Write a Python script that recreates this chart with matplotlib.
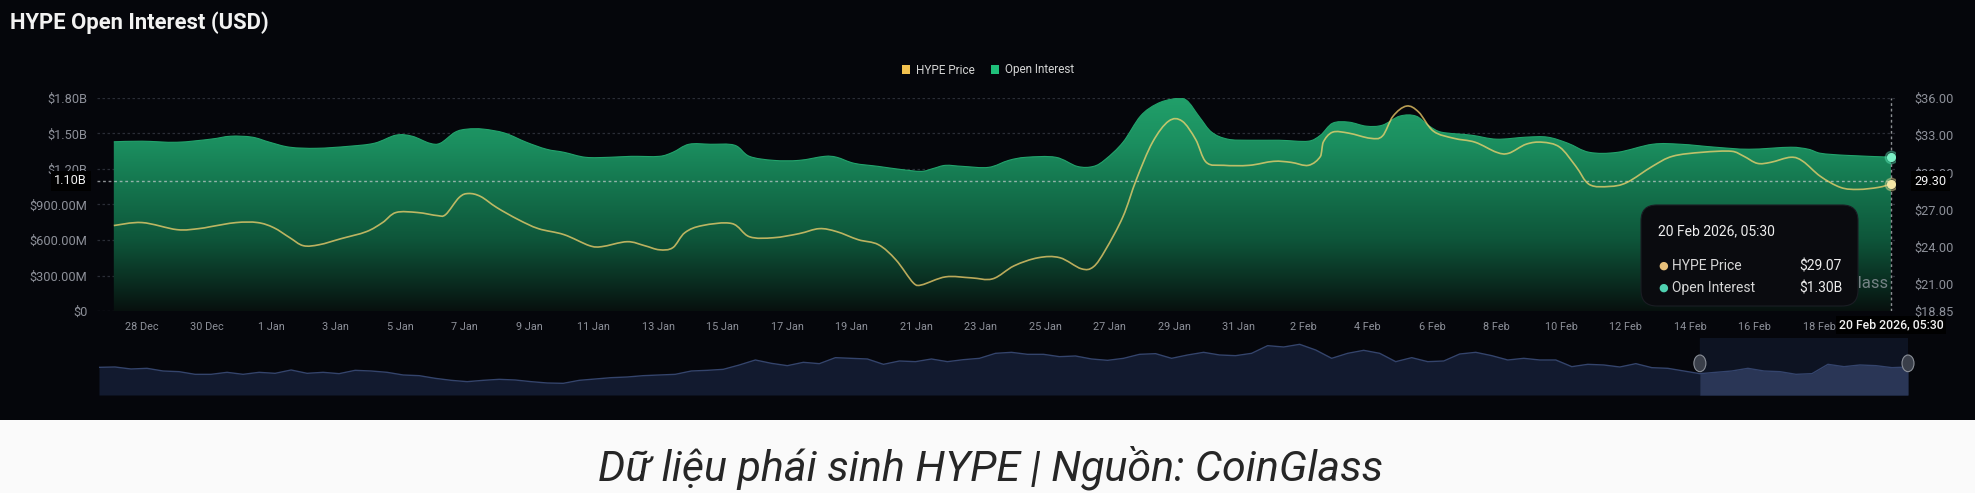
import numpy as np
import pandas as pd
import matplotlib
matplotlib.use("Agg")
import matplotlib.pyplot as plt
import matplotlib.dates as mdates
from matplotlib.colors import LinearSegmentedColormap
from matplotlib.patches import Patch, FancyBboxPatch, Rectangle, Ellipse, PathPatch
from matplotlib.path import Path
from matplotlib.ticker import FixedLocator, FuncFormatter

plt.rcParams['font.family'] = ['Roboto', 'DejaVu Sans']

# open interest (USD, billions)
oi_time = [
    "2025-12-27 03:00", "2025-12-28 00:00", "2025-12-29 02:00", "2025-12-30 03:00",
    "2025-12-30 18:00", "2025-12-31 10:00", "2025-12-31 23:00", "2026-01-01 14:00",
    "2026-01-02 10:00", "2026-01-03 10:00", "2026-01-04 05:00", "2026-01-04 21:00",
    "2026-01-05 09:00", "2026-01-05 22:00", "2026-01-06 06:00", "2026-01-06 17:00",
    "2026-01-07 02:00", "2026-01-07 14:00", "2026-01-08 06:00", "2026-01-08 22:00",
    "2026-01-09 13:00", "2026-01-10 02:00", "2026-01-10 18:00", "2026-01-11 12:00",
    "2026-01-12 04:00", "2026-01-13 01:00", "2026-01-13 11:00", "2026-01-13 23:00",
    "2026-01-14 15:00", "2026-01-15 09:00", "2026-01-15 20:00", "2026-01-16 14:00",
    "2026-01-17 09:00", "2026-01-18 04:00", "2026-01-18 13:00", "2026-01-19 02:00",
    "2026-01-19 20:00", "2026-01-20 12:00", "2026-01-21 04:00", "2026-01-21 13:00",
    "2026-01-21 22:00", "2026-01-22 11:00", "2026-01-23 06:00", "2026-01-23 21:00",
    "2026-01-24 10:00", "2026-01-25 08:00", "2026-01-26 00:00", "2026-01-26 12:00",
    "2026-01-26 21:00", "2026-01-27 10:00", "2026-01-27 23:00", "2026-01-28 11:00",
    "2026-01-28 23:00", "2026-01-29 09:00", "2026-01-29 19:00", "2026-01-30 04:00",
    "2026-01-30 16:00", "2026-01-31 08:00", "2026-02-01 06:00", "2026-02-02 04:00",
    "2026-02-02 13:00", "2026-02-02 22:00", "2026-02-03 10:00", "2026-02-03 23:00",
    "2026-02-04 11:00", "2026-02-05 00:00", "2026-02-05 12:00", "2026-02-05 22:00",
    "2026-02-06 07:00", "2026-02-07 05:00", "2026-02-08 00:00", "2026-02-08 22:00",
    "2026-02-09 14:00", "2026-02-10 05:00", "2026-02-10 21:00", "2026-02-11 18:00",
    "2026-02-12 20:00", "2026-02-13 17:00", "2026-02-14 19:00", "2026-02-15 20:00",
    "2026-02-17 03:00", "2026-02-17 16:00", "2026-02-18 01:00", "2026-02-18 19:00",
    "2026-02-20 05:30",
]
oi_value = [
    1.430, 1.435, 1.426, 1.452, 1.477, 1.469, 1.426, 1.384,
    1.375, 1.392, 1.418, 1.486, 1.477, 1.418, 1.418, 1.511,
    1.537, 1.537, 1.503, 1.426, 1.367, 1.341, 1.299, 1.299,
    1.307, 1.307, 1.341, 1.409, 1.409, 1.401, 1.307, 1.273,
    1.273, 1.307, 1.299, 1.248, 1.222, 1.197, 1.180, 1.205,
    1.231, 1.222, 1.214, 1.273, 1.299, 1.299, 1.222, 1.222,
    1.282, 1.426, 1.647, 1.749, 1.791, 1.783, 1.638, 1.511,
    1.452, 1.443, 1.443, 1.435, 1.486, 1.587, 1.596, 1.562,
    1.570, 1.647, 1.647, 1.562, 1.511, 1.486, 1.452, 1.469,
    1.469, 1.418, 1.341, 1.341, 1.409, 1.409, 1.384, 1.367,
    1.384, 1.367, 1.333, 1.316, 1.300,
]

# HYPE price (USD)
price_time = [
    "2025-12-27 03:00", "2025-12-28 00:00", "2025-12-29 02:00", "2025-12-29 18:00",
    "2025-12-30 03:00", "2025-12-30 22:00", "2025-12-31 14:00", "2026-01-01 02:00",
    "2026-01-01 14:00", "2026-01-02 00:00", "2026-01-02 12:00", "2026-01-03 04:00",
    "2026-01-03 23:00", "2026-01-04 11:00", "2026-01-04 21:00", "2026-01-05 13:00",
    "2026-01-06 04:00", "2026-01-06 10:00", "2026-01-06 20:00", "2026-01-07 03:00",
    "2026-01-07 12:00", "2026-01-08 00:00", "2026-01-08 16:00", "2026-01-09 07:00",
    "2026-01-10 02:00", "2026-01-10 21:00", "2026-01-11 06:00", "2026-01-12 01:00",
    "2026-01-12 14:00", "2026-01-13 01:00", "2026-01-13 11:00", "2026-01-13 20:00",
    "2026-01-14 09:00", "2026-01-15 07:00", "2026-01-15 20:00", "2026-01-16 14:00",
    "2026-01-17 09:00", "2026-01-18 00:00", "2026-01-18 13:00", "2026-01-19 05:00",
    "2026-01-19 20:00", "2026-01-20 09:00", "2026-01-20 22:00", "2026-01-21 04:00",
    "2026-01-21 22:00", "2026-01-22 17:00", "2026-01-23 09:00", "2026-01-24 01:00",
    "2026-01-24 19:00", "2026-01-25 11:00", "2026-01-26 03:00", "2026-01-26 12:00",
    "2026-01-26 21:00", "2026-01-27 10:00", "2026-01-27 20:00", "2026-01-28 08:00",
    "2026-01-28 20:00", "2026-01-29 06:00", "2026-01-29 16:00", "2026-01-30 00:00",
    "2026-01-30 13:00", "2026-01-31 08:00", "2026-02-01 02:00", "2026-02-01 15:00",
    "2026-02-02 04:00", "2026-02-02 13:00", "2026-02-02 15:00", "2026-02-02 22:00",
    "2026-02-03 10:00", "2026-02-04 02:00", "2026-02-04 11:00", "2026-02-04 19:00",
    "2026-02-05 05:00", "2026-02-05 14:00", "2026-02-06 01:00", "2026-02-06 16:00",
    "2026-02-07 08:00", "2026-02-08 00:00", "2026-02-08 09:00", "2026-02-08 22:00",
    "2026-02-09 10:00", "2026-02-09 23:00", "2026-02-10 11:00", "2026-02-10 21:00",
    "2026-02-11 12:00", "2026-02-12 01:00", "2026-02-12 20:00", "2026-02-13 11:00",
    "2026-02-14 09:00", "2026-02-15 07:00", "2026-02-15 16:00", "2026-02-16 02:00",
    "2026-02-16 12:00", "2026-02-17 03:00", "2026-02-17 12:00", "2026-02-18 01:00",
    "2026-02-18 16:00", "2026-02-19 05:00", "2026-02-19 20:00", "2026-02-20 05:30",
]
price_value = [
    25.73, 25.97, 25.40, 25.48, 25.64, 25.97, 25.97, 25.56,
    24.75, 24.11, 24.19, 24.67, 25.24, 25.97, 26.78, 26.78,
    26.53, 26.62, 27.99, 28.31, 28.07, 27.18, 26.21, 25.48,
    25.00, 24.11, 24.03, 24.43, 24.11, 23.78, 23.95, 25.16,
    25.73, 25.89, 24.83, 24.75, 25.08, 25.48, 25.24, 24.59,
    24.19, 22.97, 21.11, 20.95, 21.60, 21.52, 21.44, 22.49,
    23.14, 23.14, 22.25, 22.41, 23.78, 26.45, 29.45, 32.44,
    34.14, 34.14, 32.68, 30.82, 30.58, 30.58, 30.90, 30.82,
    30.58, 31.31, 32.44, 33.25, 33.17, 32.76, 32.93, 34.54,
    35.35, 34.87, 33.33, 32.76, 32.44, 31.63, 31.55, 32.28,
    32.44, 32.04, 30.50, 29.04, 28.88, 29.20, 30.50, 31.31,
    31.63, 31.71, 31.31, 30.74, 30.82, 31.23, 30.90, 29.69,
    28.80, 28.64, 28.80, 29.07,
]

# overview strip (long history, relative height)
nav_value = [
    83, 84, 78, 80, 72, 70, 62, 62, 68, 62, 68, 65, 75, 65, 68, 64,
    74, 72, 68, 60, 58, 50, 44, 40, 44, 47, 45, 40, 36, 35, 44, 48,
    52, 54, 58, 60, 62, 72, 74, 77, 90, 105, 95, 88, 98, 94, 112, 110,
    108, 92, 102, 100, 108, 100, 106, 110, 125, 128, 122, 122,
    115, 117, 108, 104, 110, 122, 124, 110, 120, 128, 120, 118, 125, 148, 144, 152,
    135, 110, 125, 134, 125, 100, 112, 100, 102, 123, 128, 118, 105, 110, 105, 105,
    85, 92, 90, 84, 94, 82, 80, 72, 64, 68, 72, 80, 72, 70, 62, 64,
    92, 85, 90, 88, 82, 84,
]
nav_window = 14  # points inside the highlighted window

oi_ticks = [0, 0.3, 0.6, 0.9, 1.2, 1.5, 1.8]
price_ticks = [18.85, 21, 24, 27, 30, 33, 36]
cross_oi = 1.10
cross_price = 29.30

oi_t = pd.to_datetime(oi_time)
oi_v = np.array(oi_value)
pr_t = pd.to_datetime(price_time)
pr_v = np.array(price_value)


def smooth_path(xs, ys, s=0.17, base=None):
    # cubic bezier through every point (like echarts "smooth")
    xs = np.asarray(xs, float)
    ys = np.asarray(ys, float)
    n = len(xs)
    verts = [(xs[0], ys[0])]
    codes = [Path.MOVETO]
    for i in range(n - 1):
        p0 = np.array([xs[max(i - 1, 0)], ys[max(i - 1, 0)]])
        p1 = np.array([xs[i], ys[i]])
        p2 = np.array([xs[i + 1], ys[i + 1]])
        p3 = np.array([xs[min(i + 2, n - 1)], ys[min(i + 2, n - 1)]])
        dx = p2[0] - p1[0]
        t1 = (p2 - p0) * s
        t2 = (p3 - p1) * s
        # keep control points inside the segment in x
        if t1[0] != 0:
            t1 = t1 * min(1, 0.45 * dx / abs(t1[0]))
        if t2[0] != 0:
            t2 = t2 * min(1, 0.45 * dx / abs(t2[0]))
        verts += [tuple(p1 + t1), tuple(p2 - t2), tuple(p2)]
        codes += [Path.CURVE4] * 3
    if base is not None:
        verts += [(xs[-1], base), (xs[0], base), (xs[0], ys[0])]
        codes += [Path.LINETO, Path.LINETO, Path.CLOSEPOLY]
    return Path(verts, codes)


BG = '#05060b'
GRID = '#2a2d36'
LABEL = '#8d9099'
YELLOW = '#f2c14e'
GREEN = '#1fbf7a'

fig = plt.figure(figsize=(19.75, 4.93), dpi=100)
fig.patch.set_facecolor(BG)
W, H = 1975, 493

# white caption band
fig.patches.append(Rectangle((0, 0), 1, 73 / H, transform=fig.transFigure,
                             facecolor='#fafafa', edgecolor='none', zorder=0))
fig.text(991 / W, (H - 468) / H, 'Dữ liệu phái sinh HYPE | Nguồn: CoinGlass',
         ha='center', va='center', fontsize=31, style='italic', color='#262626')

fig.text(10 / W, (H - 23) / H, 'HYPE Open Interest (USD)', ha='left', va='center',
         fontsize=15.8, fontweight='bold', color='#f2f2f2')

# main axes
ax = fig.add_axes([97 / W, (H - 311) / H, (1895 - 97) / W, (311 - 98) / H])
ax.set_facecolor(BG)
ax2 = ax.twinx()

x0 = pd.Timestamp('2025-12-26 14:30')
x1 = oi_t[-1] + pd.Timedelta(hours=3)
ax.set_xlim(x0, x1)
ax.set_ylim(0, 1.8)
ax2.set_ylim(18.85, 36)

oi_x = mdates.date2num(oi_t)
pr_x = mdates.date2num(pr_t)

# gradient area for open interest
cmap = LinearSegmentedColormap.from_list('oi', [
    (0.0, (7/255, 16/255, 14/255)),
    (0.1, (9/255, 38/255, 28/255)),
    (0.335, (14/255, 86/255, 58/255)),
    (0.61, (21/255, 120/255, 80/255)),
    (0.78, (27/255, 142/255, 95/255)),
    (1.0, (33/255, 160/255, 106/255)),
])
grad = np.linspace(0, 1, 256).reshape(-1, 1)
im = ax.imshow(grad, cmap=cmap, origin='lower', aspect='auto',
               extent=[mdates.date2num(x0), mdates.date2num(x1), 0, 1.8], zorder=1)
im.set_clip_path(smooth_path(oi_x, oi_v, base=0), transform=ax.transData)
ax.add_patch(PathPatch(smooth_path(oi_x, oi_v), facecolor='none', edgecolor='#22a36c',
                       lw=0.8, zorder=2))
ax.set_xlim(x0, x1)
ax.set_ylim(0, 1.8)

ax2.add_patch(PathPatch(smooth_path(pr_x, pr_v), facecolor='none', edgecolor='#ffd870',
                        lw=1.2, alpha=0.72, zorder=3))

# grid
for v in oi_ticks:
    ax.axhline(v, color=GRID, lw=0.9, ls=(0, (2, 2)), zorder=0.5)

for s in list(ax.spines.values()) + list(ax2.spines.values()):
    s.set_visible(False)

ax.yaxis.set_major_locator(FixedLocator(oi_ticks))
ax.yaxis.set_major_formatter(FuncFormatter(
    lambda v, p: '$0' if v == 0 else (f'${v:.2f}B' if v >= 1 else f'${v*1000:.2f}M')))
ax2.yaxis.set_major_locator(FixedLocator(price_ticks))
ax2.yaxis.set_major_formatter(FuncFormatter(lambda v, p: f'${v:.2f}'))
ax.tick_params(axis='y', length=0, pad=7, labelsize=9.2, labelcolor=LABEL)
ax2.tick_params(axis='y', length=0, pad=14, labelsize=9.2, labelcolor=LABEL)

ticks = pd.date_range('2025-12-28', '2026-02-18', freq='2D')
ax.set_xticks(ticks)
ax.set_xticklabels([f'{t.day} {t:%b}' for t in ticks])
ax.tick_params(axis='x', length=0, pad=8, labelsize=7.8, labelcolor=LABEL)

# crosshair
end_t = oi_t[-1]
ax.axhline(cross_oi, color='#c8ccd0', lw=1.0, ls=(0, (2, 2)), alpha=0.7, zorder=4)
ax.axvline(end_t, ymin=0, ymax=1, color='#c8ccd0', lw=1.0, ls=(0, (2, 2)), alpha=0.7, zorder=4)
ax.text(-0.0055, cross_oi, '1.10B', transform=ax.get_yaxis_transform(), ha='right', va='center',
        fontsize=9.2, color='#f2f2f2', zorder=6,
        bbox=dict(facecolor='#000000', edgecolor='none', pad=2.5))
ax2.text(1.011, cross_price, f'{cross_price:.2f}', transform=ax2.get_yaxis_transform(),
         ha='left', va='center', fontsize=9.2, color='#f2f2f2', zorder=6,
         bbox=dict(facecolor='#000000', edgecolor='none', pad=2.5))
ax.text(end_t, -0.065, '20 Feb 2026, 05:30', transform=ax.get_xaxis_transform(),
        ha='center', va='center', fontsize=8.8, fontweight='medium', color='#f2f2f2',
        zorder=6, clip_on=False,
        bbox=dict(facecolor='#000000', edgecolor='none', pad=2.0))

# end markers
ax.plot([end_t], [oi_v[-1]], 'o', ms=9, color='#5ee6b8', alpha=0.35, zorder=7)
ax.plot([end_t], [oi_v[-1]], 'o', ms=5.5, color='#7cf0c6', zorder=7)
ax2.plot([pr_t[-1]], [pr_v[-1]], 'o', ms=9, color='#f3e39a', alpha=0.35, zorder=7)
ax2.plot([pr_t[-1]], [pr_v[-1]], 'o', ms=5.5, color='#f6e7a6', zorder=7)

# watermark
fig.text(1888 / W, (H - 284) / H, 'CoinGlass', ha='right', va='center', fontsize=12,
         color='#9aa0a8', alpha=0.75, zorder=3)

# tooltip
fig.patches.append(FancyBboxPatch((1641 / W, (H - 306) / H), (1858 - 1641) / W, (306 - 205) / H,
                                  boxstyle='round,pad=0,rounding_size=0.008',
                                  transform=fig.transFigure, facecolor='#0a0b0f',
                                  edgecolor='#1b1d24', lw=0.8, zorder=8,
                                  mutation_aspect=W / H))
fig.text(1658 / W, (H - 231) / H, '20 Feb 2026, 05:30', ha='left', va='center',
         fontsize=10, color='#eeeeee', zorder=9)
rows = [('HYPE Price', f'${pr_v[-1]:.2f}', '#e8c07a', 266),
        ('Open Interest', f'${oi_v[-1]:.2f}B', '#4fd1b0', 288)]
for name, val, c, yy in rows:
    fig.text(1663 / W, (H - yy) / H, '●', ha='center', va='center', fontsize=8,
             color=c, zorder=9)
    fig.text(1672 / W, (H - yy) / H, name, ha='left', va='center', fontsize=10,
             color='#d6d6d6', zorder=9)
    fig.text(1842 / W, (H - yy) / H, val, ha='right', va='center', fontsize=10,
             color='#eeeeee', zorder=9)

# legend
fig.legend(handles=[Patch(facecolor=YELLOW, edgecolor='none', label='HYPE Price'),
                    Patch(facecolor=GREEN, edgecolor='none', label='Open Interest')],
           loc='center', bbox_to_anchor=(988 / W, (H - 70) / H), ncol=2, frameon=False,
           fontsize=8.5, handlelength=0.65, handleheight=0.9, handletextpad=0.5,
           columnspacing=1.4, labelcolor='#d4d4d4')

# overview strip
nav = fig.add_axes([99 / W, (H - 396) / H, (1908 - 99) / W, (396 - 338) / H])
nav.set_facecolor(BG)
idx = np.arange(len(nav_value))
nv = np.array(nav_value)
nav.set_xlim(0, len(nav_value) - 1)
nav.set_ylim(-3, 171)
sel0 = len(nav_value) - nav_window
nav.axvspan(sel0, len(nav_value) - 1, color='#0d1322', zorder=0)
nav.fill_between(idx, 0, nv, color='#121a2f', lw=0, zorder=1)
nav.fill_between(idx[sel0:], 0, nv[sel0:], color='#2a3656', lw=0, zorder=2)
nav.plot(idx, nv, color='#34446c', lw=1.0, zorder=3)
for xe in (sel0, len(nav_value) - 1):
    nav.add_patch(Ellipse((xe, 95), 0.75, 50, facecolor='#3a3f4a', edgecolor='#8a8f98',
                          lw=0.8, zorder=4, clip_on=False))
nav.set_xticks([])
nav.set_yticks([])
for s in nav.spines.values():
    s.set_visible(False)

fig.savefig('out.png', dpi=100, facecolor=fig.get_facecolor())
